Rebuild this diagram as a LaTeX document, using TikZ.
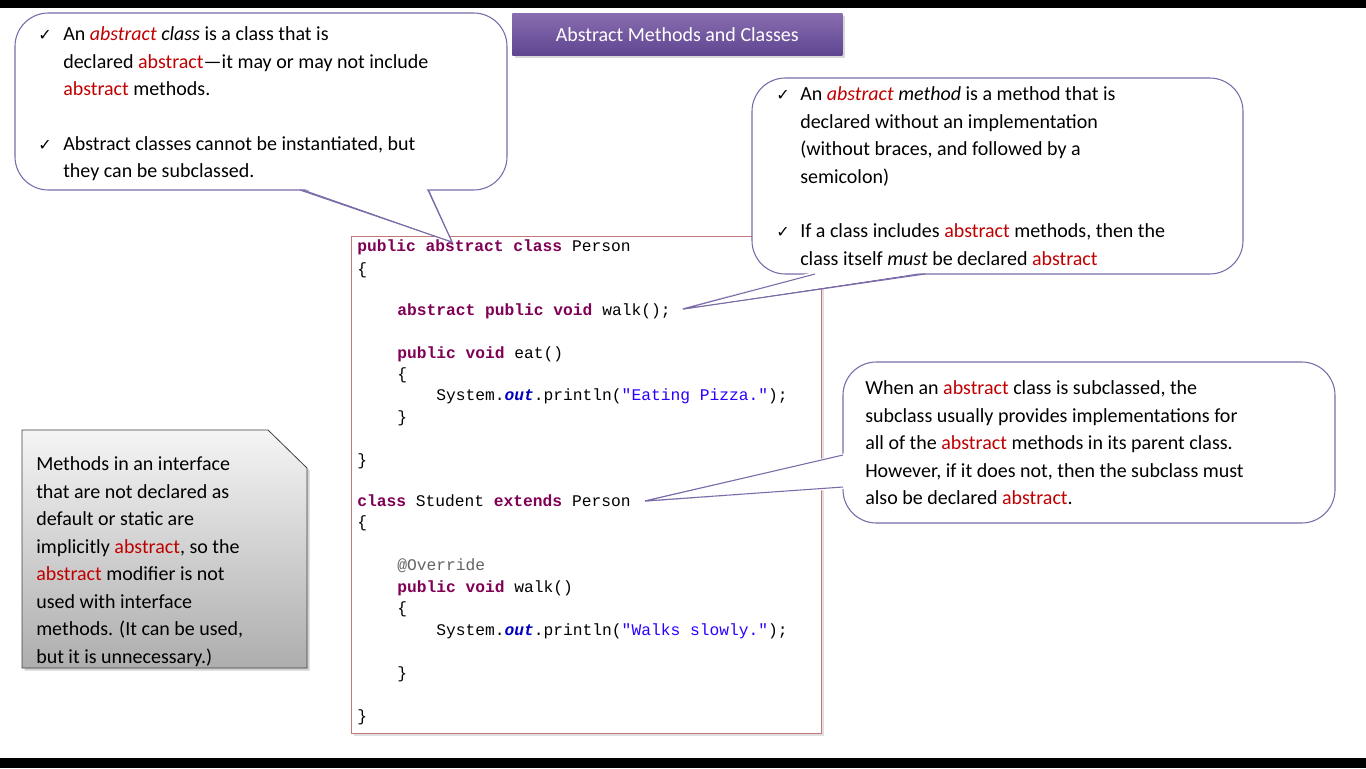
\documentclass[tikz,border=0pt]{standalone}
\usepackage{fontspec}
\setmainfont{Carlito}
\newfontfamily\codefont{Liberation Mono}
\newfontfamily\symfont{DejaVu Sans}
\usetikzlibrary{shadows}
\definecolor{absred}{HTML}{C00000}
\definecolor{kwc}{HTML}{7F0055}
\definecolor{strc}{HTML}{2A00FF}
\definecolor{outc}{HTML}{0000C0}
\definecolor{annc}{HTML}{646464}
\definecolor{calloutline}{HTML}{7A6AA8}
\definecolor{codeborder}{HTML}{C07878}
\definecolor{titletop}{HTML}{8A6DB0}
\definecolor{titlebot}{HTML}{5E4690}
\newcommand\myab[1]{\textcolor{absred}{#1}}
\newcommand\mykw[1]{\textcolor{kwc}{\bfseries #1}}
\newcommand\mystr[1]{\textcolor{strc}{#1}}
\newcommand\myout{\textcolor{outc}{\bfseries\itshape out}}
\newcommand\ck{{\symfont\fontsize{12pt}{12pt}\selectfont ✓}}
\tikzset{
  txt/.style={anchor=base west,inner sep=0pt,font=\fontsize{15pt}{18pt}\selectfont},
  cd/.style={anchor=base west,inner sep=0pt,font=\codefont\fontsize{12.2pt}{14pt}\selectfont},
  cmark/.style={anchor=base west,inner sep=0pt},
  callout/.style={draw=calloutline,fill=white,line width=0.8pt},
}
\begin{document}
\begin{tikzpicture}[x=0.75pt,y=-0.75pt]
\useasboundingbox (0,0) rectangle (1366,768);
\fill[white] (0,0) rectangle (1366,768);
\fill[black] (0,0) rectangle (1366,8);
\fill[black] (0,758) rectangle (1366,768);
% title
\node[draw=none,top color=titletop,bottom color=titlebot,minimum width=330*0.75pt,minimum height=42*0.75pt,anchor=north west,inner sep=0pt,text=white,font=\fontsize{15pt}{18pt}\selectfont,drop shadow={opacity=0.3}] (title) at (512,13) {Abstract Methods and Classes};
% code box
\node[draw=codeborder,fill=white,line width=0.8pt,minimum width=470*0.75pt,minimum height=497*0.75pt,anchor=north west,inner sep=0pt,drop shadow={opacity=0.25,shadow xshift=2pt,shadow yshift=-2pt}] (codebox) at (351,236) {};
\node[cd] (c1) at (357,251) {\mykw{public abstract class} Person};
\node[cd] (c2) at (357,274) {\{};
\node[cd] (c3) at (397,315) {\mykw{abstract public void} walk();};
\node[cd] (c4) at (397,358) {\mykw{public void} eat()};
\node[cd] (c5) at (397,379) {\{};
\node[cd] (c6) at (436,400) {System.\myout.println(\mystr{"Eating Pizza."});};
\node[cd] (c7) at (397,422) {\}};
\node[cd] (c8) at (357,465) {\}};
\node[cd] (c9) at (357,506) {\mykw{class} Student \mykw{extends} Person};
\node[cd] (c10) at (357,527) {\{};
\node[cd] (c11) at (397,570) {\textcolor{annc}{@Override}};
\node[cd] (c12) at (397,592) {\mykw{public void} walk()};
\node[cd] (c13) at (397,613) {\{};
\node[cd] (c14) at (436,635) {System.\myout.println(\mystr{"Walks slowly."});};
\node[cd] (c15) at (397,678) {\}};
\node[cd] (c16) at (357,721) {\}};
% coordinates for tails
\coordinate (t1) at (452,242);
\coordinate (t2) at (683,309);
\coordinate (t3) at (645,501);
% callout 1
\draw[callout] (300,189) -- (t1) -- (428,189);
\draw[callout] (15,38) -- ++(0,0) [rounded corners=25pt] (15,13) rectangle (507,190);
\fill[white] (302,188) -- (t1) -- (426,188) -- cycle;
\draw[calloutline,line width=0.8pt] (300,190) -- (t1) -- (428,190);
\node[cmark] (k1) at (38,40) {\ck};
\node[txt] (a1) at (63,40) {An \myab{\itshape abstract} \textit{class} is a class that is};
\node[txt] (a2) at (63,68) {declared \myab{abstract}—it may or may not include};
\node[txt] (a3) at (63,95) {\myab{abstract} methods.};
\node[cmark] (k2) at (38,150) {\ck};
\node[txt] (a4) at (63,150) {Abstract classes cannot be instantiated, but};
\node[txt] (a5) at (63,177) {they can be subclassed.};
% callout 2
\draw[callout] (815,273) -- (t2) -- (925,273);
\draw[callout,rounded corners=25pt] (752,78) rectangle (1243,274);
\fill[white] (813,272) -- (t2) -- (927,272) -- cycle;
\draw[calloutline,line width=0.8pt] (815,274) -- (t2) -- (925,274);
\node[cmark] (k3) at (776,100) {\ck};
\node[txt] (b1) at (800,100) {An \myab{\itshape abstract} \textit{method} is a method that is};
\node[txt] (b2) at (800,128) {declared without an implementation};
\node[txt] (b3) at (800,155) {(without braces, and followed by a};
\node[txt] (b4) at (800,183) {semicolon)};
\node[cmark] (k4) at (776,237) {\ck};
\node[txt] (b5) at (800,237) {If a class includes \myab{abstract} methods, then the};
\node[txt] (b6) at (800,265) {class itself \textit{must} be declared \myab{abstract}};
% callout 3
\draw[callout] (844,455) -- (t3) -- (844,487);
\draw[callout,rounded corners=25pt] (843,362) rectangle (1335,523);
\fill[white] (845,453) -- (t3) -- (845,489) -- cycle;
\draw[calloutline,line width=0.8pt] (843,455) -- (t3) -- (843,487);
\node[txt] (d1) at (865,394) {When an \myab{abstract} class is subclassed, the};
\node[txt] (d2) at (865,422) {subclass usually provides implementations for};
\node[txt] (d3) at (865,449) {all of the \myab{abstract} methods in its parent class.};
\node[txt] (d4) at (865,477) {However, if it does not, then the subclass must};
\node[txt] (d5) at (865,504) {also be declared \myab{abstract}.};
% gray note
\path[top color=white!92!gray,bottom color=black!32,draw=black!75,line width=0.6pt,drop shadow={opacity=0.35,shadow xshift=2pt,shadow yshift=-2pt}]
  (22,430) -- (268,430) -- (307,468) -- (307,668) -- (22,668) -- cycle;
\node[txt] (n1) at (36,470) {Methods in an interface};
\node[txt] (n2) at (36,498) {that are not declared as};
\node[txt] (n3) at (36,525) {default or static are};
\node[txt] (n4) at (36,553) {implicitly \myab{abstract}, so the};
\node[txt] (n5) at (36,580) {\myab{abstract} modifier is not};
\node[txt] (n6) at (36,608) {used with interface};
\node[txt] (n7) at (36,635) {methods. (It can be used,};
\node[txt] (n8) at (36,663) {but it is unnecessary.)};
\end{tikzpicture}
\end{document}
